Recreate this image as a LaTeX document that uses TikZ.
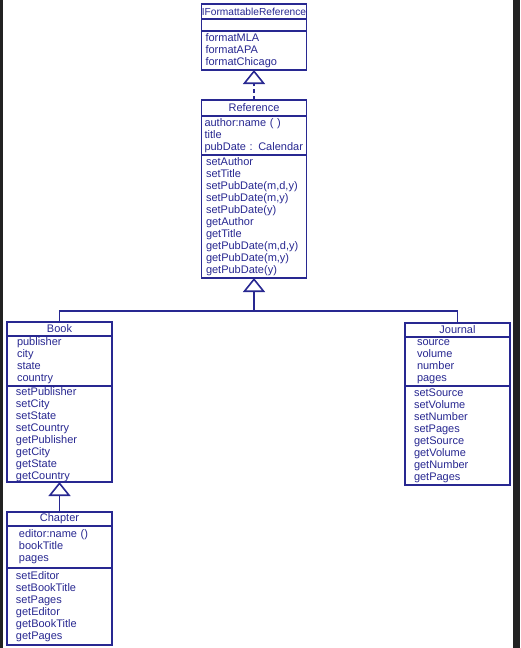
\documentclass[tikz,border=0pt]{standalone}
\usepackage{fontspec}
\setmainfont{Liberation Sans}
\usepackage{tikz}
\usetikzlibrary{arrows.meta}
\usetikzlibrary{positioning}

\definecolor{umlblue}{RGB}{40,40,145}
\definecolor{screenedge}{RGB}{34,34,34}
\newcommand{\umlfont}{\fontsize{11}{12}\selectfont}

\tikzset{
  umlbox/.style={draw=umlblue, line width=1.6pt, minimum width=105pt, inner ysep=0pt, outer sep=0pt, text=umlblue, font=\umlfont},
  classname/.style={umlbox, inner xsep=0pt, align=center, text width=105pt},
  classpart/.style={umlbox, align=left, inner xsep=#1, text width=105pt-2*#1},
  umlline/.style={draw=umlblue, line width=1.6pt},
  inherit/.style={umlline, -{Triangle[open, length=14pt, width=22pt, line width=1.6pt]}},
}

\begin{document}
\begin{tikzpicture}[x=1pt, y=-1pt]

\useasboundingbox (0, 0) rectangle (520, 648);
\fill[white] (0, 0) rectangle (520, 648);
\fill[screenedge] (0, 0) rectangle (3, 648);
\fill[screenedge] (513, 0) rectangle (520, 648);

\node[classname, minimum height=15pt, anchor=north west, font=\fontsize{10.2}{12}\selectfont] (ifacename) at (201.5, 4) {IFormattableReference};
\node[classpart=4pt, minimum height=12pt, below=0pt of ifacename] (ifaceattr) {};
\node[classpart=4pt, minimum height=39pt, below=0pt of ifaceattr] (ifaceops) {formatMLA\\formatAPA\\formatChicago};


\node[classname, minimum height=16pt, anchor=north west] (refname) at (201.5, 100) {Reference};
\node[classpart=3pt, minimum height=39pt, below=0pt of refname] (refattr) {author:name ( )\\title\\pubDate : Calendar};
\node[classpart=4.5pt, minimum height=123pt, below=0pt of refattr] (refops) {setAuthor\\setTitle\\setPubDate(m,d,y)\\setPubDate(m,y)\\setPubDate(y)\\getAuthor\\getTitle\\getPubDate(m,d,y)\\getPubDate(m,y)\\getPubDate(y)};


\node[classname, minimum height=14pt, anchor=north west] (bookname) at (7, 322) {Book};
\node[classpart=10pt, minimum height=50pt, below=0pt of bookname] (bookattr) {publisher\\city\\state\\country};
\node[classpart=9pt, text height=9.5pt, text depth=86.5pt, below=0pt of bookattr] (bookops) {setPublisher\\setCity\\setState\\setCountry\\getPublisher\\getCity\\getState\\getCountry};


\node[classname, minimum height=14pt, anchor=north west] (chaptername) at (7, 512) {Chapter};
\node[classpart=12pt, minimum height=42pt, below=0pt of chaptername] (chapterattr) {editor:name ()\\bookTitle\\pages};
\node[classpart=9pt, minimum height=77pt, below=0pt of chapterattr] (chapterops) {setEditor\\setBookTitle\\setPages\\getEditor\\getBookTitle\\getPages};


\node[classname, minimum height=14pt, anchor=north west] (journalname) at (405, 323) {Journal};
\node[classpart=12pt, minimum height=49pt, below=0pt of journalname] (journalattr) {source\\volume\\number\\pages};
\node[classpart=9pt, minimum height=99pt, below=0pt of journalattr] (journalops) {setSource\\setVolume\\setNumber\\setPages\\getSource\\getVolume\\getNumber\\getPages};


\coordinate (branch) at ([yshift=-33pt]refops.south);

\draw (refname) edge[inherit, dash pattern=on 4pt off 3pt] (ifaceops);
\draw[umlline] (bookname.north) |- (branch) -| (journalname.north);
\draw (branch) edge[inherit] (refops.south);
\draw (chaptername) edge[inherit] (bookops);

\end{tikzpicture}
\end{document}
